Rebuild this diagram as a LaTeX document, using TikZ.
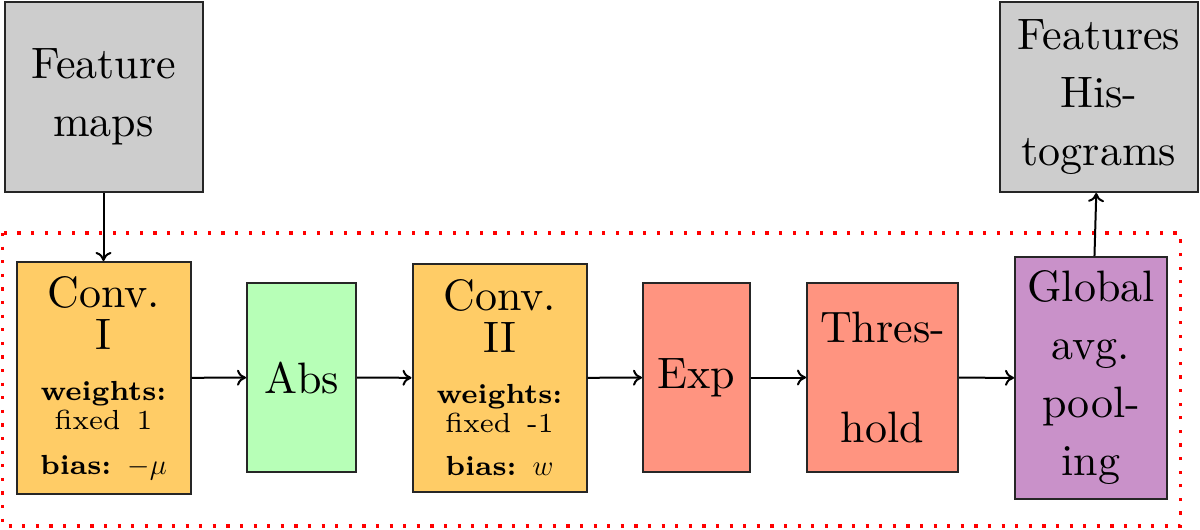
\documentclass[tikz,border=0pt]{standalone}
\usetikzlibrary{arrows.meta}
\DeclareFontFamily{TU}{lmr}{}
\DeclareFontShape{TU}{lmr}{m}{n}{<->\UnicodeFontFile{lmroman10-regular}{\UnicodeFontTeXLigatures}}{}
\DeclareFontShape{TU}{lmr}{b}{n}{<->\UnicodeFontFile{lmroman10-bold}{\UnicodeFontTeXLigatures}}{}
\DeclareFontShape{TU}{lmr}{bx}{n}{<->\UnicodeFontFile{lmroman10-bold}{\UnicodeFontTeXLigatures}}{}
\DeclareFontShape{TU}{lmr}{m}{it}{<->\UnicodeFontFile{lmroman10-italic}{\UnicodeFontTeXLigatures}}{}
\DeclareFontFamily{TU}{lmrsv}{}
\DeclareFontShape{TU}{lmrsv}{m}{n}{<->\UnicodeFontFile{lmroman7-regular}{\UnicodeFontTeXLigatures}}{}
\DeclareFontShape{TU}{lmrsv}{bx}{n}{<->\UnicodeFontFile{lmroman7-bold}{\UnicodeFontTeXLigatures}}{}
\DeclareFontShape{TU}{lmrsv}{b}{n}{<->\UnicodeFontFile{lmroman7-bold}{\UnicodeFontTeXLigatures}}{}
\definecolor{boxgray}{RGB}{205,205,205}
\definecolor{convorange}{RGB}{255,204,102}
\definecolor{absgreen}{RGB}{183,255,183}
\definecolor{salmonred}{RGB}{255,148,128}
\definecolor{poolpurple}{RGB}{201,145,201}
\newcommand\smallfnt{\fontfamily{lmrsv}\fontsize{13.8}{17}\selectfont}
\begin{document}
\begin{tikzpicture}[x=0.5pt,y=-0.5pt,
  blockbox/.style={draw=black!85, line width=1pt, inner sep=0pt, align=center,
    font=\fontsize{22}{29}\selectfont},
  convbox/.style={blockbox, fill=convorange, minimum width=87pt,
    font=\fontsize{22}{21}\selectfont},
  arr/.style={-{To[length=4.5pt,width=8pt]}, line width=1pt}]
\useasboundingbox (0,0) rectangle (1200,530);
\draw[red, line width=1.6pt, dash pattern=on 1.6pt off 5.2pt] (2.5,233) rectangle (1180.5,526);
\node[blockbox, fill=boxgray, minimum width=99pt, minimum height=95pt] (fm) at (103.5,97) {Feature\\maps};
\node[blockbox, fill=boxgray, minimum width=99pt, minimum height=95pt] (hist) at (1099,97) {Features\\His-\\tograms};
\node[convbox, minimum height=116pt] (conv1) at (103.5,378)
  {Conv.\\I\\[4.5pt]\smallfnt\bfseries weights:\\[-6.5pt]\smallfnt fixed\hspace{8pt}1\\[1.5pt]\smallfnt\bfseries bias:\hspace{8pt}$-\mu$};
\node[blockbox, fill=absgreen, minimum width=54.5pt, minimum height=94.5pt] (abs) at (301.5,377.5) {Abs};
\node[convbox, minimum height=114pt] (conv2) at (499.5,378)
  {Conv.\\II\\[4.5pt]\smallfnt\bfseries weights:\\[-6.5pt]\smallfnt fixed\hspace{8pt}-1\\[0.5pt]\smallfnt\bfseries bias:\hspace{8pt}$w$};
\node[blockbox, fill=salmonred, minimum width=53.5pt, minimum height=94.5pt] (exp) at (696.5,377.5) {Exp};
\node[blockbox, fill=salmonred, minimum width=75.5pt, minimum height=94.5pt] (thr) at (882.5,377.5) {Thres-\\[21pt]hold};
\node[blockbox, fill=poolpurple, minimum width=76pt, minimum height=121pt] (glob) at (1091,378) {Global\\avg.\\pool-\\ing};
\draw[arr] (fm) -- (conv1);
\draw[arr] (conv1) -- (abs);
\draw[arr] (abs) -- (conv2);
\draw[arr] (conv2) -- (exp);
\draw[arr] (exp) -- (thr);
\draw[arr] (thr) -- (glob);
\draw[arr] (glob) -- (hist);
\end{tikzpicture}
\end{document}
